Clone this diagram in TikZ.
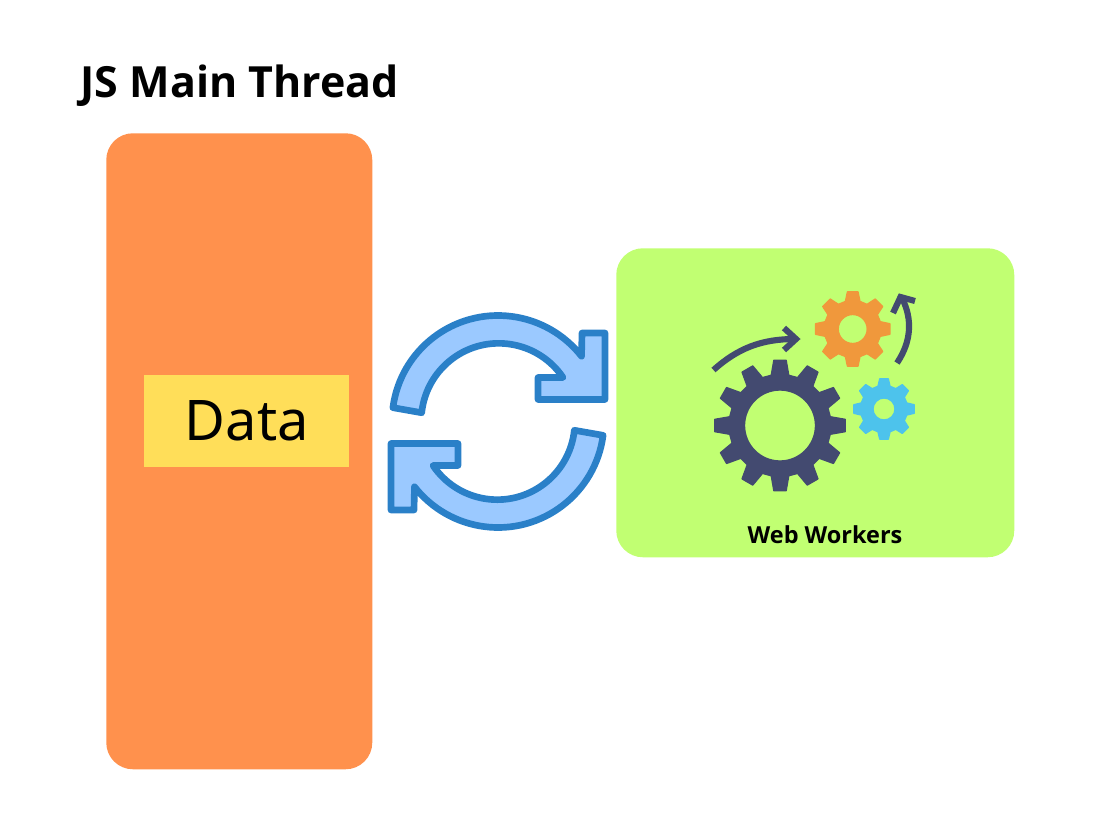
\documentclass[tikz,border=0pt]{standalone}
\usepackage{fontspec}
\setmainfont{Open Sans}
\newfontfamily\datafont{Noto Sans}
\definecolor{threadorange}{RGB}{255,145,77}
\definecolor{datayellow}{RGB}{255,222,89}
\definecolor{workergreen}{RGB}{193,255,114}
\definecolor{syncfill}{RGB}{155,201,255}
\definecolor{syncline}{RGB}{42,128,200}
\definecolor{geardark}{RGB}{67,74,112}
\definecolor{gearorange}{RGB}{240,152,60}
\definecolor{gearblue}{RGB}{77,195,236}
\tikzset{
    panel/.style={anchor=north west, inner sep=0pt, rounded corners=20pt},
    syncarrow/.style={fill=syncfill, draw=syncline, line width=5pt, line join=round},
    bentarrow/.style={draw=geardark, line width=4.6pt}
}
% center x, center y, teeth, tip radius, root radius, hole radius, colour
\newcommand{\drawgear}[7]{
    \pgfmathsetmacro{\stepang}{360/#3}
    \filldraw[fill=#7, draw=#7, line width=1pt, even odd rule, line join=round]
        (#1,#2) ++(\stepang*0.33:#5)
        foreach \k in {1,...,#3} {
            -- ($(#1,#2)+(\k*\stepang-\stepang*0.33:#5)$)
            -- ($(#1,#2)+(\k*\stepang-\stepang*0.18:#4)$)
            -- ($(#1,#2)+(\k*\stepang+\stepang*0.18:#4)$)
            -- ($(#1,#2)+(\k*\stepang+\stepang*0.33:#5)$)
        } -- cycle
        (#1,#2) circle[radius=#6];
}
\usetikzlibrary{calc}
\begin{document}
\begin{tikzpicture}[x=0.75pt, y=0.75pt]
    \useasboundingbox (0,0) rectangle (1120,-821);

    % Main thread
    \node[anchor=west, font=\fontsize{32.2}{38}\selectfont\bfseries] (title) at (76,-86) {JS Main Thread};
    \node[panel, fill=threadorange, minimum width=199.5pt, minimum height=477pt] (mainthread) at (106,-133) {};
    \node[anchor=north west, inner sep=0pt, fill=datayellow, minimum width=153.75pt, minimum height=69pt,
          font=\datafont\fontsize{42}{50}\selectfont] (data) at (144,-375) {Data};

    % Workers
    \node[panel, fill=workergreen, minimum width=298.5pt, minimum height=231.75pt] (workers) at (616,-248) {};
    \node[font=\fontsize{17.6}{21}\selectfont\bfseries] (workerlabel) at (825,-535) {Web Workers};

    % Sync arrows
    \foreach \ang in {0,180} {
        \begin{scope}[shift={(498,-421.5)}, rotate=\ang]
            \draw[syncarrow] (172.5:106) arc[start angle=172.5, end angle=38, radius=106]
                -- (84,88.5) -- (107,88.5) -- (107,22) -- (40,22) -- (40,44) -- (65,44)
                arc[start angle=34, end angle=174, radius=77.5] -- cycle;
        \end{scope}
    }

    % Gears
    \drawgear{780}{-425.5}{12}{65.5}{51}{35.5}{geardark}
    \drawgear{852.7}{-329}{8}{37.5}{28.5}{14.5}{gearorange}
    \drawgear{884}{-409}{8}{30.5}{23.5}{11}{gearblue}

    % Small arrows
    \draw[bentarrow] (713.5,-370) .. controls (738,-348) and (762,-339) .. (795,-339);
    \draw[bentarrow] (784,-328) -- (796,-339) -- (784,-350);
    \draw[bentarrow] (897,-363) .. controls (911,-342) and (913,-320) .. (902,-298);
    \draw[bentarrow] (893,-313) -- (900.5,-297) -- (915,-301);
\end{tikzpicture}
\end{document}
